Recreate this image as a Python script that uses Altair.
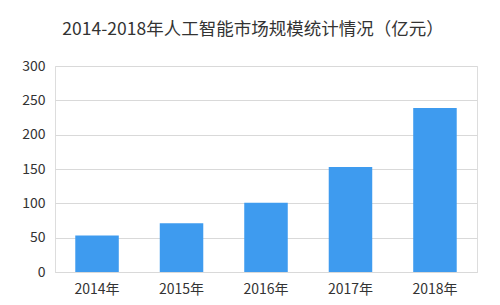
import altair as alt
import pandas as pd

years = ["2014年", "2015年", "2016年", "2017年", "2018年"]
values = [53, 71, 101, 153, 239]
title_text = "2014-2018年人工智能市场规模统计情况（亿元）"
y_ticks = [0, 50, 100, 150, 200, 250, 300]

df = pd.DataFrame({"year": years, "value": values})

FONT = "Noto Sans CJK SC"

bars = alt.Chart(df).mark_bar(color="#3e9bef").encode(
    x=alt.X("year:N", sort=years, title=None,
            scale=alt.Scale(paddingInner=0.485, paddingOuter=0.24),
            axis=alt.Axis(labelAngle=0, labelFontSize=14, labelFont=FONT,
                          labelColor="#333333", ticks=False, domain=True,
                          domainColor="#d9d9d9", labelPadding=10)),
    y=alt.Y("value:Q", title=None,
            scale=alt.Scale(domain=[0, 300], nice=False),
            axis=alt.Axis(values=y_ticks, labelFontSize=14, labelFont=FONT,
                          labelColor="#333333", ticks=False, domain=False,
                          gridColor="#d9d9d9", labelPadding=10)),
)

chart = bars.properties(
    width=422,
    height=206,
    title=alt.TitleParams(title_text, font=FONT, fontSize=17.5, fontWeight="normal",
                          color="#333333", anchor="middle", offset=21, dx=-13),
    autosize=alt.AutoSizeParams(type="none"),
    padding={"left": 55, "top": 66, "right": 23, "bottom": 33},
).configure_view(stroke=None).configure(background="white")

chart.save("out.html", embed_options={"renderer": "svg", "actions": False})
